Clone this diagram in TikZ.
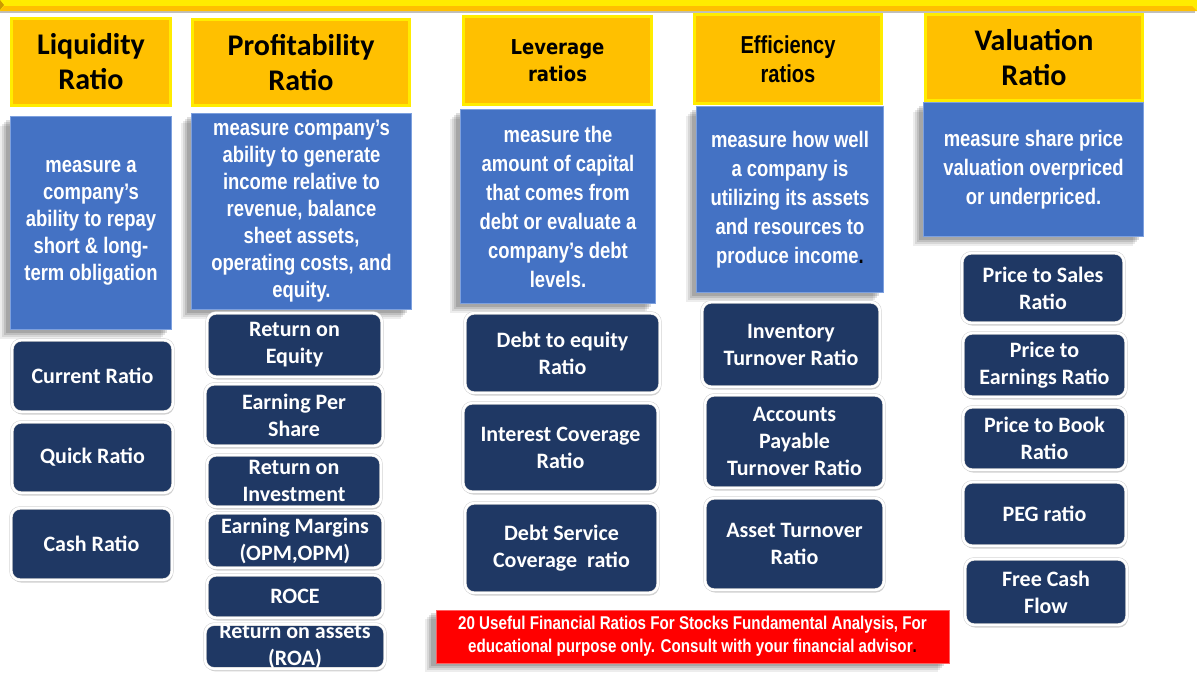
\documentclass[tikz,border=0pt]{standalone}
\usepackage{fontspec}
\setmainfont{Carlito}
\newfontfamily\narrowsf[FakeStretch=0.82]{Liberation Sans}
\newfontfamily\widesf[FakeStretch=0.88]{DejaVu Sans}
\usetikzlibrary{shadows}
\definecolor{frGold}  {RGB}{255,192,  0}
\definecolor{frYellow}{RGB}{255,236,  0}
\definecolor{frBlue}  {RGB}{ 68,114,196}
\definecolor{frBlueL} {RGB}{125,160,222}
\definecolor{frNavy}  {RGB}{ 31, 56,100}
\definecolor{frRed}   {RGB}{255,  0,  0}
\definecolor{frRedL}  {RGB}{255, 95, 95}

\begin{document}
\begin{tikzpicture}[
  x=1pt,y=-1pt,
  sz/.style 2 args={minimum width=#1pt,minimum height=#2pt},
  softshade/.style={
    drop shadow={shadow xshift=-11pt,shadow yshift=-9pt,fill=black,opacity=0.07},
    drop shadow={shadow xshift=-9pt,shadow yshift=-7pt,fill=black,opacity=0.09},
    drop shadow={shadow xshift=-7pt,shadow yshift=-5pt,fill=black,opacity=0.11},
    drop shadow={shadow xshift=-5pt,shadow yshift=-3pt,fill=black,opacity=0.13}},
  hdr/.style={draw=frYellow,line width=2.5pt,fill=frGold,align=center,inner sep=0pt,
              font=\bfseries\fontsize{30}{35}\selectfont},
  desc/.style={draw=frBlueL,line width=1.2pt,fill=frBlue,align=center,inner sep=0pt,
              text=white,font=\narrowsf\bfseries\fontsize{22.5}{27}\selectfont,softshade},
  ratio/.style={draw=black!18,double=white,double distance=2.4pt,line width=0.5pt,
              fill=frNavy,rounded corners=9pt,align=center,inner sep=0pt,text=white,
              font=\bfseries\fontsize{22}{27}\selectfont,
              drop shadow={shadow xshift=1pt,shadow yshift=-2.5pt,fill=black,opacity=0.18}},
  note/.style={draw=frRedL,line width=1pt,fill=frRed,align=center,inner sep=0pt,
              text=white,font=\narrowsf\bfseries\fontsize{18.5}{23}\selectfont,softshade}
]
\useasboundingbox[fill=white] (0,0) rectangle (1200,675);

% top band
\fill[black!25] (0,10) rectangle (1195,13);
\fill[frYellow] (0,0) rectangle (1197,11);
\fill[frGold] (4,6) -- (1192,6) -- (1197,11) -- (0,11) -- cycle;
\fill[frGold!80!black] (0,0) -- (4,5) -- (0,10) -- cycle;

% headers
\node[hdr,sz={159}{87}] (hLiq) at (91,62)    {Liquidity\\Ratio};
\node[hdr,sz={217}{86}] (hPro) at (301,62.5) {Profitability\\Ratio};
\node[hdr,sz={188}{88},font=\widesf\bfseries\fontsize{20.5}{27}\selectfont]
                        (hLev) at (557.5,60.5) {Leverage\\ratios};
\node[hdr,sz={187}{89},font=\narrowsf\bfseries\fontsize{24.5}{29}\selectfont]
                        (hEff) at (788,59)   {Efficiency\\ratios};
\node[hdr,sz={217}{86}] (hVal) at (1034,57.5) {Valuation\\Ratio};

% descriptions
\node[desc,sz={161}{213}] (dLiq) at (91,223)
  {measure a\\company’s\\ability to repay\\short \& long-\\term obligation};
\node[desc,sz={220}{196}] (dPro) at (301.5,211.5)
  {measure company’s\\ability to generate\\income relative to\\revenue, balance\\sheet assets,\\operating costs, and\\equity.};
\node[desc,sz={195}{194},font=\narrowsf\bfseries\fontsize{22.5}{29}\selectfont] (dLev) at (558,206.5)
  {measure the\\amount of capital\\that comes from\\debt or evaluate a\\company’s debt\\levels.};
\node[desc,sz={187}{186},font=\narrowsf\bfseries\fontsize{22.5}{29}\selectfont] (dEff) at (790,199.5)
  {measure how well\\a company is\\utilizing its assets\\and resources to\\produce income{\color{black}.}};
\node[desc,sz={220}{134},font=\narrowsf\bfseries\fontsize{22.5}{29}\selectfont] (dVal) at (1033.5,169.5)
  {measure share price\\valuation overpriced\\or underpriced.};

% liquidity ratios
\node[ratio,sz={161}{72}] (rCur) at (92.5,376)   {Current Ratio};
\node[ratio,sz={161}{71}] (rQck) at (92.5,457.5) {Quick Ratio};
\node[ratio,sz={161}{72}] (rCsh) at (91.5,544)   {Cash Ratio};

% profitability ratios
\node[ratio,sz={175}{64}] (rRoe) at (294.5,345)  {Return on\\Equity};
\node[ratio,sz={178}{62}] (rEps) at (294,415)    {Earning Per\\Share};
\node[ratio,sz={174}{52}] (rRoi) at (294,481)    {Return on\\Investment};
\node[ratio,sz={176}{55}] (rMar) at (295,540.5)  {Earning Margins\\(OPM,OPM)};
\node[ratio,sz={176}{43}] (rRoc) at (295,596.5)  {ROCE};
\node[ratio,sz={180}{43}] (rRoa) at (295,646.5)  {Return on assets\\(ROA)};

% leverage ratios
\node[ratio,sz={195}{80}] (rDte) at (562.5,353)  {Debt to equity\\Ratio};
\node[ratio,sz={195}{89}] (rIcr) at (560.5,447.5) {Interest Coverage\\Ratio};
\node[ratio,sz={193}{90}] (rDsc) at (561.5,548)  {Debt Service\\Coverage\ \ ratio};

% efficiency ratios
\node[ratio,sz={178}{85}] (rInv) at (791,344.5)  {Inventory\\Turnover Ratio};
\node[ratio,sz={179}{93}] (rApt) at (794.5,441.5) {Accounts\\Payable\\Turnover Ratio};
\node[ratio,sz={179}{92}] (rAst) at (794.5,544)  {Asset Turnover\\Ratio};

% valuation ratios
\node[ratio,sz={162}{70}] (rPs)  at (1043,288)    {Price to Sales\\Ratio};
\node[ratio,sz={163}{64}] (rPe)  at (1044.5,365)  {Price to\\Earnings Ratio};
\node[ratio,sz={163}{63}] (rPb)  at (1044.5,438.5) {Price to Book\\Ratio};
\node[ratio,sz={163}{64}] (rPeg) at (1044.5,514)  {PEG ratio};
\node[ratio,sz={162}{66}] (rFcf) at (1046,592)    {Free Cash\\Flow};

% disclaimer
\node[note,sz={513}{53}] (nDisc) at (692.5,636.5)
  {20 Useful Financial Ratios For Stocks Fundamental Analysis, For\\educational purpose only. Consult with your financial advisor{\color{black}.}};
\end{tikzpicture}
\end{document}
